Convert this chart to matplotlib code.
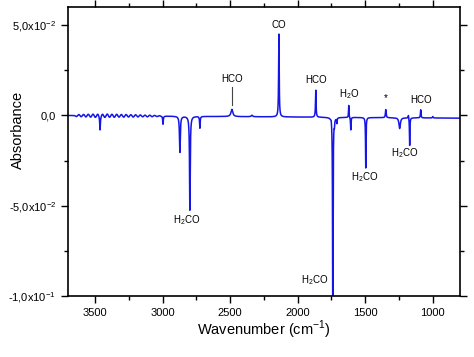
import numpy as np
import matplotlib
matplotlib.use("Agg")
import matplotlib.pyplot as plt
from matplotlib.ticker import MultipleLocator, FixedLocator

plt.rcParams['font.family'] = ['Liberation Sans', 'DejaVu Sans']
plt.rcParams['mathtext.fontset'] = 'custom'
plt.rcParams['mathtext.rm'] = 'Liberation Sans'

# ---- data ----
peak_centers = [3463, 2997, 2872, 2798, 2724, 2487, 2339, 2139, 1866,
                1752, 1740, 1728, 1710, 1622, 1607, 1496, 1348, 1245,
                1180, 1171, 1089, 1000]
peak_heights = [-0.007, -0.0045, -0.020, -0.052, -0.0065, 0.004, 0.0008,
                0.046, 0.015, 0.0015, -0.125, -0.003, -0.003, 0.0068,
                -0.007, -0.028, 0.0045, -0.006, 0.002, -0.0155, 0.0045,
                0.0008]
peak_widths = [2.5, 2.5, 3.5, 3.0, 2.5, 8.0, 6.0, 2.5, 2.5, 3.0, 2.0,
               2.0, 2.0, 2.0, 2.0, 2.0, 3.0, 6.0, 3.0, 2.0, 2.5, 3.0]

fringe_centers = [3620, 3585, 3550, 3515, 3480, 3445, 3410, 3375, 3340,
                  3305, 3270, 3235, 3200, 3165, 3130, 3095, 3060, 3025]
fringe_heights = [0.0006, 0.0007, 0.0008, 0.0009, 0.0010, 0.0010, 0.0010,
                  0.0009, 0.0009, 0.0008, 0.0008, 0.0007, 0.0007, 0.0006,
                  0.0005, 0.0005, 0.0004, 0.0003]

labels = ['HCO', 'CO', 'HCO', r'H$_2$O', '*', 'HCO',
          r'H$_2$CO', r'H$_2$CO', r'H$_2$CO', r'H$_2$CO']
label_x = [2487, 2139, 1866, 1622, 1348, 1089, 1208, 1503, 2820, 1874]
label_y = [0.020, 0.050, 0.0194, 0.0117, 0.0095, 0.0083,
           -0.0206, -0.034, -0.058, -0.091]

x_ticks = [3500, 3000, 2500, 2000, 1500, 1000]
y_ticks = [0.05, 0.0, -0.05, -0.1]
y_ticklabels = [r'5,0x10$^{-2}$', '0,0', r'-5,0x10$^{-2}$', r'-1,0x10$^{-1}$']

# ---- build spectrum ----
wn = np.linspace(3700, 800, 8000)
absb = np.zeros_like(wn) - 0.0015 * (3700 - wn) / 2900
for c, h, w in zip(peak_centers, peak_heights, peak_widths):
    absb += h * w**2 / ((wn - c)**2 + w**2)
for c, h in zip(fringe_centers, fringe_heights):
    absb += h * np.exp(-0.5 * ((wn - c) / 7.0)**2) - h * np.exp(-0.5 * ((wn - c - 17.5) / 7.0)**2)

fig = plt.figure(figsize=(4.74, 3.57), dpi=100)
ax = fig.add_axes([0.1435, 0.171, 0.8265, 0.809])
ax.plot(wn, absb, color='#1515e6', lw=1.1)

ax.set_xlim(3700, 800)
ax.set_ylim(-0.1, 0.06)

for t, x, y in zip(labels, label_x, label_y):
    ax.text(x, y, t, ha='center', va='center', fontsize=7)
# small marker line above HCO at 2487
ax.plot([2487, 2487], [0.0155, 0.006], color='#444444', lw=0.8)

ax.xaxis.set_major_locator(FixedLocator(x_ticks))
ax.xaxis.set_minor_locator(MultipleLocator(250))
ax.yaxis.set_major_locator(FixedLocator(y_ticks))
ax.yaxis.set_minor_locator(MultipleLocator(0.025))
ax.set_yticklabels(y_ticklabels)
ax.tick_params(which='both', direction='out', top=True, right=True, labelsize=8)
ax.tick_params(which='major', length=5, width=1)
ax.tick_params(which='minor', length=3, width=1)
for s in ax.spines.values():
    s.set_linewidth(1.2)

ax.set_xlabel(r'Wavenumber (cm$^{-1}$)', fontsize=10.5, labelpad=1)
ax.set_ylabel('Absorbance', fontsize=10.5)
ax.yaxis.set_label_coords(-0.11, 0.574)

fig.savefig('out.png', dpi=100)
